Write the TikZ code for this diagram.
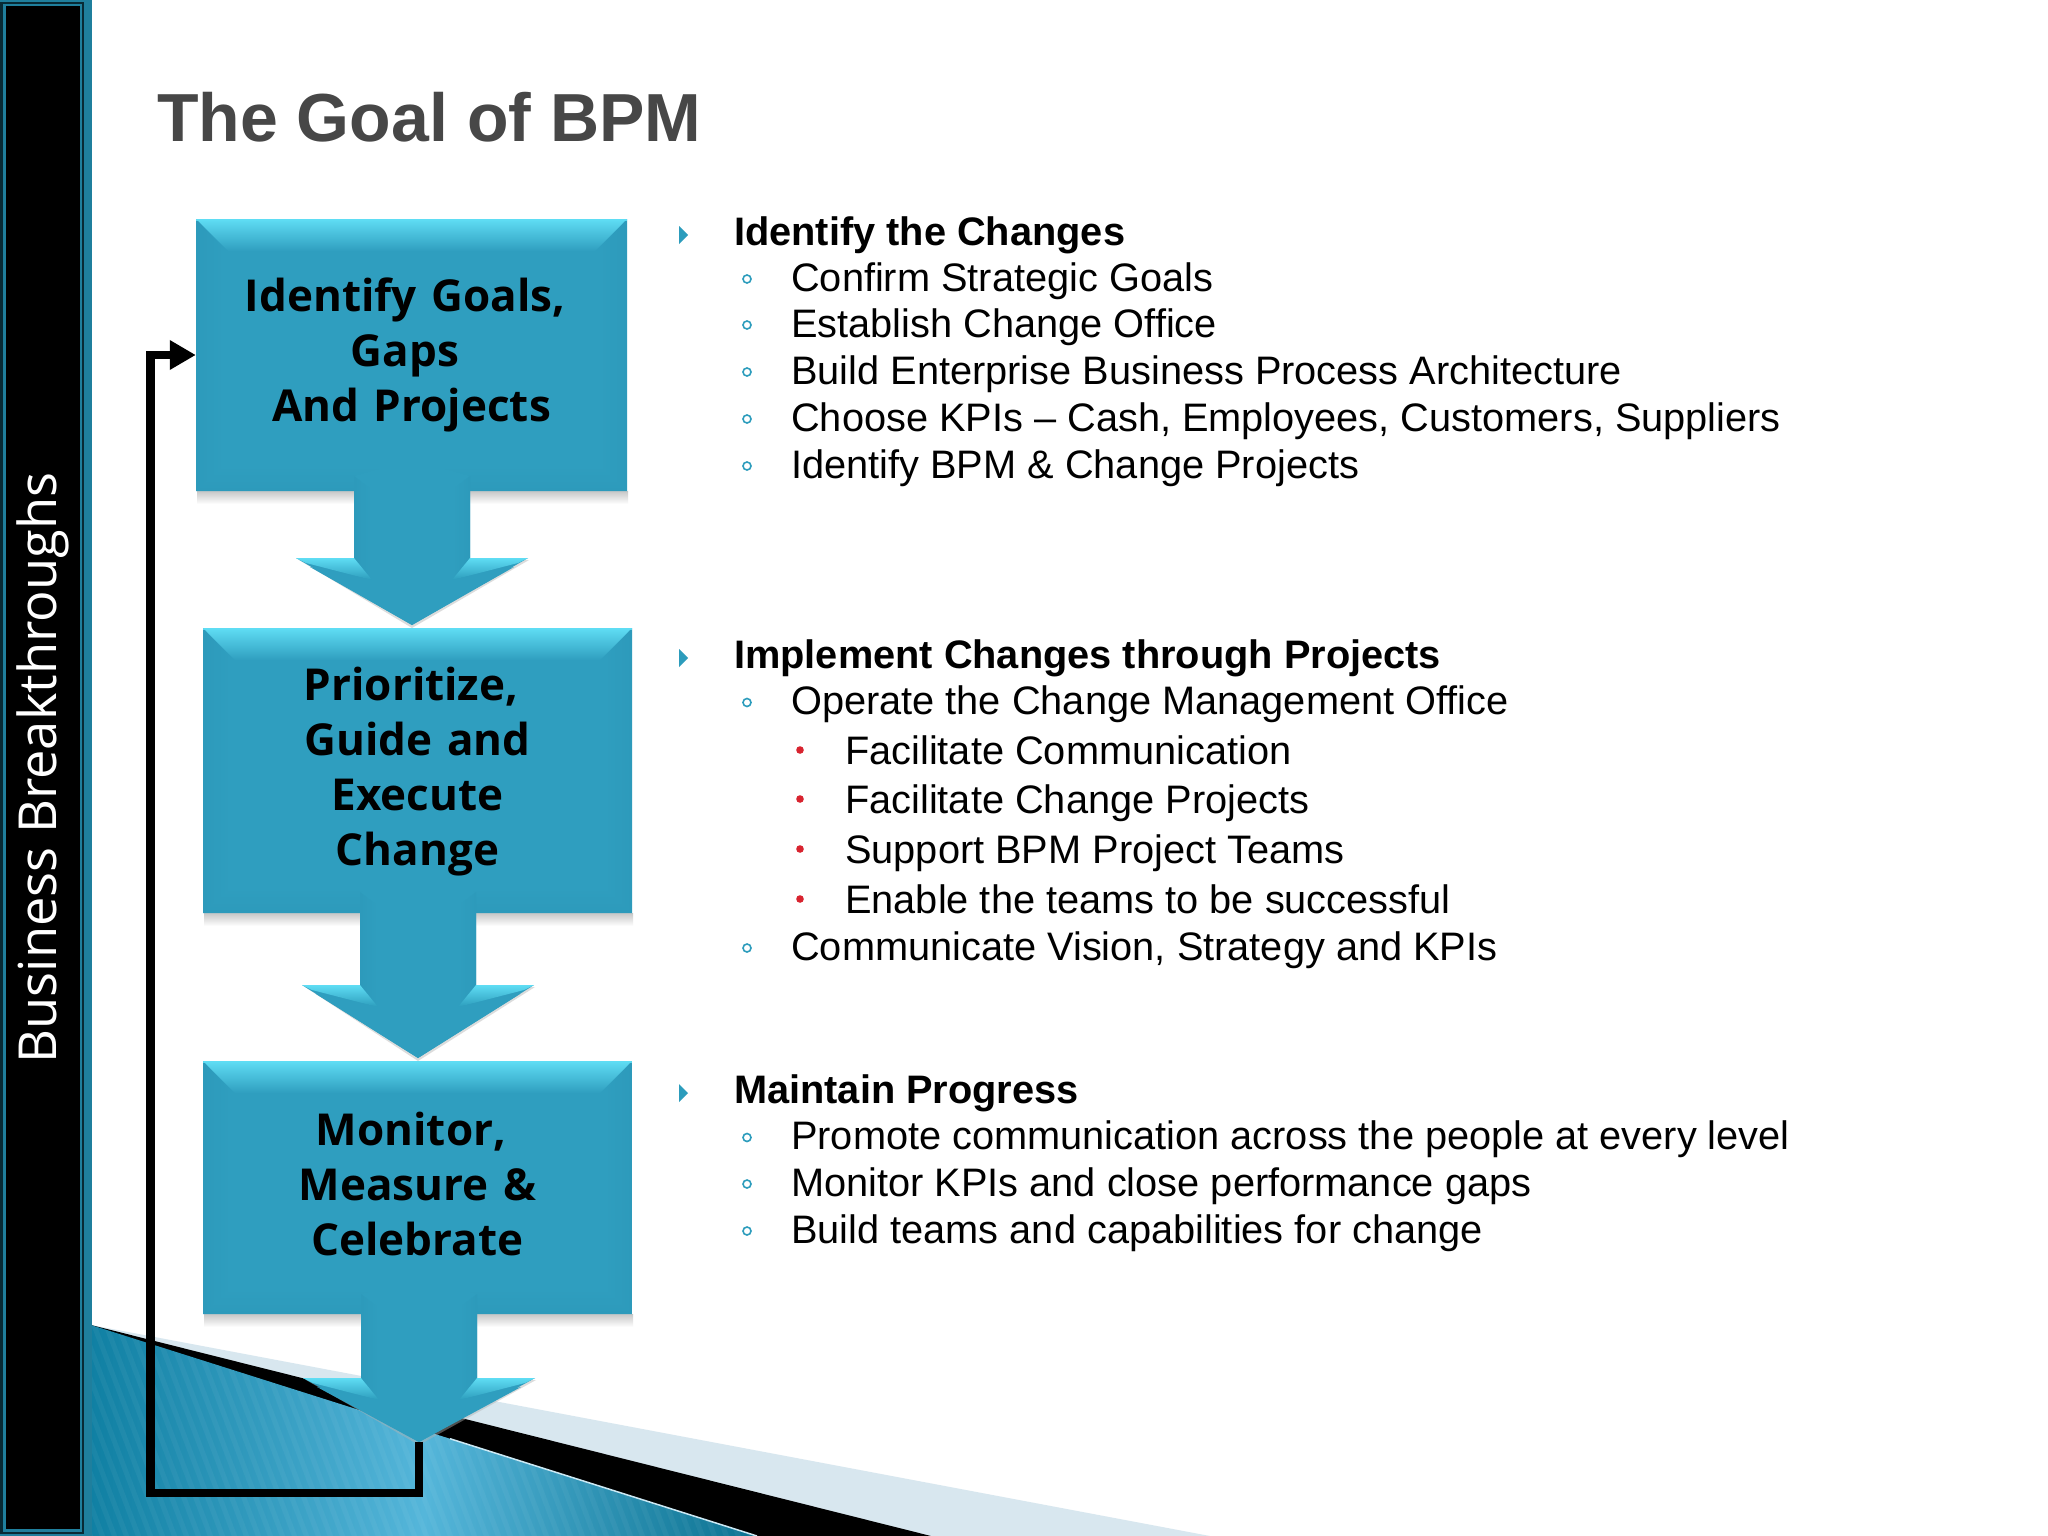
\documentclass[tikz,border=0pt]{standalone}
\usepackage{fontspec}
\setmainfont{Liberation Sans}
\newfontfamily\boxfont{Open Sans}
\newfontfamily\barfont{Open Sans}
\usetikzlibrary{arrows.meta,calc}
\definecolor{base}{HTML}{2F9EBF}
\definecolor{light}{HTML}{5FDDF4}
\definecolor{sidel}{HTML}{2D9ABB}
\definecolor{tealb}{HTML}{2C9CBC}
\definecolor{reddot}{HTML}{D8232F}
\definecolor{barteal}{HTML}{1F7F9D}
\definecolor{bardark}{HTML}{082A35}
\definecolor{band}{HTML}{D8E7EF}
\definecolor{triL}{HTML}{1080A3}
\definecolor{triM}{HTML}{55B6DA}
\definecolor{triR}{HTML}{0B7291}
\tikzset{
  x=1pt,y=-1pt,
  flow/.style n args={2}{inner sep=0pt,text width=#1,minimum height=#2,align=center,font=\boxfont\bfseries\fontsize{44}{55}\selectfont,text=black},
  hdr/.style={anchor=base west,inner sep=0pt,font=\bfseries\fontsize{39.75}{47}\selectfont},
  subl/.style={anchor=base west,inner sep=0pt,font=\fontsize{39.75}{47}\selectfont},
  fb/.style={line width=8.5pt,draw=black,line join=miter},
}
\newcommand{\trail}{\mbox{\hspace{13pt}}}
% \bevbox{name}{x0}{y0}{x1}{y1}{text shift}{text}
\newcommand{\bevbox}[7]{%
  \shade[top color=black!22,bottom color=white] (#2+1,#5) rectangle (#4+1,#5+13);
  \fill[base] (#2,#3) rectangle (#4,#5);
  \shade[top color=light,bottom color=base] (#2,#3) -- (#4,#3) -- (#4-32,#3+32) -- (#2+32,#3+32) -- cycle;
  \shade[left color=sidel,right color=base] (#2,#3) -- (#2+28,#3+32) -- (#2+28,#5-26) -- (#2,#5) -- cycle;
  \shade[left color=base,right color=sidel] (#4,#3) -- (#4-28,#3+32) -- (#4-28,#5-26) -- (#4,#5) -- cycle;
  \fill[light,opacity=.9] (#2,#3) rectangle (#4,#3+2);
  \shade[top color=base,bottom color=sidel] (#2+28,#5-26) -- (#4-28,#5-26) -- (#4,#5) -- (#2,#5) -- cycle;
  \node[flow={#4pt-#2pt}{#5pt-#3pt}] (#1) at ({(#2+#4)/2},{(#3+#5)/2+#6}) {#7};
}
% \bevarrow{tipname}{cx}{ytopshaft}{yhead}{ytip}
\newcommand{\bevarrow}[5]{%
  \fill[black!30,opacity=.45] (#2-113,#4+2) -- (#2,#5+3) -- (#2+117,#4+2) -- cycle;
  \fill[base] (#2-58,#3+16) -- (#2,#3) -- (#2+58,#3+16) -- (#2+58,#4) -- (#2+116,#4) -- (#2,#5) -- (#2-116,#4) -- (#2-58,#4) -- cycle;
  \shade[left color=sidel,right color=base] (#2-58,#3+16) -- (#2-40,#3+30) -- (#2-40,#4+20) -- (#2-58,#4) -- cycle;
  \shade[left color=base,right color=sidel] (#2+58,#3+16) -- (#2+40,#3+30) -- (#2+40,#4+20) -- (#2+58,#4) -- cycle;
  \shade[top color=light,bottom color=tealb] (#2-58,#4) -- (#2-116,#4) -- (#2-106,#4+5) -- (#2-40,#4+22) -- cycle;
  \shade[top color=light,bottom color=tealb] (#2+58,#4) -- (#2+116,#4) -- (#2+106,#4+5) -- (#2+40,#4+22) -- cycle;
  \fill[base] (#2-40,#4+22) -- (#2-102,#4+9) -- (#2,#5) -- (#2+102,#4+9) -- (#2+40,#4+22) -- cycle;
  \coordinate (#1) at (#2,#5);
}
\newcommand{\bu}[1]{\fill[tealb] (679,#1-10) ++(0,-9) -- ++(9,9) -- ++(-9,9) -- cycle;}
\newcommand{\ci}[1]{\draw[tealb,line width=1.6pt] (747,#1-12) circle (4);}
\newcommand{\rd}[1]{\fill[reddot] (800,#1-14) circle (3.8);}
\begin{document}
\begin{tikzpicture}
\useasboundingbox (0,0) rectangle (2048,1536);
\fill[white] (0,0) rectangle (2048,1536);
% bottom decoration
\fill[band] (91,1325) -- (1210,1536) -- (91,1536) -- cycle;
\fill[black] (91,1325) -- (931,1536) -- (91,1536) -- cycle;
\begin{scope}
  \clip (91,1325) -- (757,1536) -- (91,1536) -- cycle;
  \shade[left color=triL,right color=triR,middle color=triM] (91,1325) rectangle (757,1536);
  \foreach \k in {-100,-88,...,780} {\draw[white,opacity=.045,line width=5pt] (\k,1320) -- (\k+84,1540);}
\end{scope}
\draw[white!70!triM,line width=1.5pt] (450,1438.7) -- (757,1536);
% side bar
\fill[barteal] (0,0) rectangle (91.5,1536);
\fill[bardark] (0,2.5) rectangle (84,1533.5);
\draw[barteal,line width=2.4pt] (4.5,5) rectangle (81,1530.5);
\fill[black] (5.7,6.2) rectangle (79.8,1529.3);
\node[rotate=90,inner sep=0pt,text=white,font=\barfont\fontsize{52.4}{52.4}\selectfont,anchor=base] (bar) at (56,768) {Business Breakthroughs};
% title
\node[anchor=base west,inner sep=0pt,text=black!72,font=\bfseries\fontsize{68}{68}\selectfont] (title) at (157,142) {The Goal of BPM};
% boxes, then arrows on top
\bevbox{boxa}{196}{219}{627}{491}{0}{Identify Goals,\trail\\Gaps\trail\\And Projects}
\bevbox{boxb}{203}{628}{632}{913}{1}{Prioritize,\trail\\Guide and\\Execute\\Change}
\bevbox{boxc}{203}{1061}{632}{1314}{-4}{Monitor,\trail\\Measure \&\\Celebrate}
\bevarrow{tipa}{412}{460}{558}{625}
\bevarrow{tipb}{418}{876}{985}{1058}
\bevarrow{tipc}{419}{1278}{1378}{1442}
% feedback
\coordinate (corner) at (150.5,1493);
\draw[fb,-{Triangle[length=26pt,width=28pt]}] (tipc) |- (corner) |- (boxa.west);
% text
\bu{245}\node[hdr] (h1) at (734,245) {Identify the Changes};
\ci{291}\node[subl] (s11) at (791,291) {Confirm Strategic Goals};
\ci{337}\node[subl] (s12) at (791,337) {Establish Change Office};
\ci{384}\node[subl] (s13) at (791,384) {Build Enterprise Business Process Architecture};
\ci{431}\node[subl] (s14) at (791,431) {Choose KPIs – Cash, Employees, Customers, Suppliers};
\ci{478}\node[subl] (s15) at (791,478) {Identify BPM \& Change Projects};
\bu{668}\node[hdr] (h2) at (734,668) {Implement Changes through Projects};
\ci{714.5}\node[subl] (s21) at (791,714.5) {Operate the Change Management Office};
\rd{764}\node[subl] (t1) at (845,764) {Facilitate Communication};
\rd{813}\node[subl] (t2) at (845,813) {Facilitate Change Projects};
\rd{863}\node[subl] (t3) at (845,863) {Support BPM Project Teams};
\rd{913}\node[subl] (t4) at (845,913) {Enable the teams to be successful};
\ci{960}\node[subl] (s22) at (791,960) {Communicate Vision, Strategy and KPIs};
\bu{1103}\node[hdr] (h3) at (734,1103) {Maintain Progress};
\ci{1149.5}\node[subl] (s31) at (791,1149.5) {Promote communication across the people at every level};
\ci{1196}\node[subl] (s32) at (791,1196) {Monitor KPIs and close performance gaps};
\ci{1243}\node[subl] (s33) at (791,1243) {Build teams and capabilities for change};
\end{tikzpicture}
\end{document}
